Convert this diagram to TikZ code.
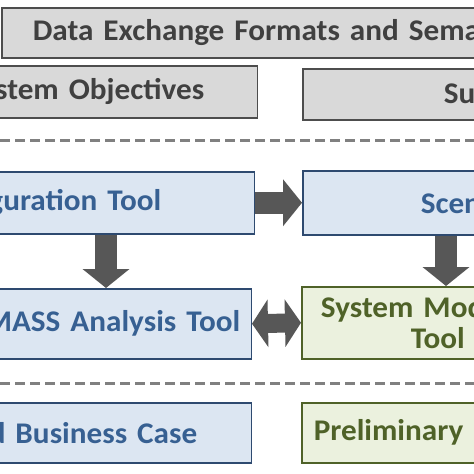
\documentclass[tikz,border=0pt]{standalone}
\usepackage{fontspec}
\setmainfont{Carlito}[FakeStretch=1.04]
\usetikzlibrary{arrows.meta}

\definecolor{grayfill}{HTML}{D9D9D9}
\definecolor{grayedge}{HTML}{4D4D4D}
\definecolor{graytext}{HTML}{404040}
\definecolor{bluefill}{HTML}{DCE6F2}
\definecolor{blueedge}{HTML}{2E4A70}
\definecolor{bluetext}{HTML}{376092}
\definecolor{greenfill}{HTML}{EBF1DE}
\definecolor{greenedge}{HTML}{4F6228}
\definecolor{greentext}{HTML}{4F6228}
\definecolor{arrowgray}{HTML}{575757}
\definecolor{sepgray}{HTML}{808080}

\begin{document}
\begin{tikzpicture}[x=1pt, y=-1pt,
    box/.style={draw, line width=1.5pt, inner ysep=0pt, font=\fontsize{30}{31}\selectfont\bfseries},
    graybox/.style={box, draw=grayedge, fill=grayfill, text=graytext},
    bluebox/.style={box, draw=blueedge, fill=bluefill, text=bluetext},
    greenbox/.style={box, draw=greenedge, fill=greenfill, text=greentext},
    leftbox/.style={anchor=north east, text width=300pt, align=right},
    rightbox/.style={anchor=north west, text width=300pt, align=left},
    fatarrow/.style={line width=22pt, draw=arrowgray, -{Triangle[length=19pt, width=46pt]}},
    dblarrow/.style={line width=19pt, draw=arrowgray, {Triangle[length=16pt, width=47pt]}-{Triangle[length=16pt, width=47pt]}},
    sep/.style={draw=sepgray, line width=3pt, dash pattern=on 10pt off 5pt}
]
    \useasboundingbox (0,0) rectangle (474,474);
    \clip (0,0) rectangle (474,474);
    \fill[white] (0,0) rectangle (474,474);

    % top banner
    \node[graybox, anchor=north west, text width=700pt, align=left, inner xsep=31pt, minimum height=50pt] (formats) at (1,7) {Data Exchange Formats and Semantics};

    % objectives row
    \node[graybox, leftbox, inner xsep=53pt, minimum height=52pt] (obj) at (258,65) {System Objectives};
    \node[graybox, rightbox, inner xsep=141pt, minimum height=51pt] (su) at (302,68) {Su};

    \draw[sep] (0,140) -- (474,140);

    % tools
    \node[bluebox, leftbox, inner xsep=93pt, minimum height=62pt] (cfg) at (255,171) {Configuration Tool};
    \node[bluebox, rightbox, inner xsep=118pt, minimum height=64pt] (scn) at (302,170) {Scenario};
    \node[bluebox, leftbox, inner xsep=11pt, minimum height=70pt] (mass) at (252,288) {MASS Analysis Tool};
    \node[greenbox, anchor=north west, text width=252pt, align=center, inner xsep=10pt, minimum height=72pt] (sysmod) at (301,286) {System Modelling\\Tool};

    \draw[sep] (0,383) -- (474,383);

    % results row
    \node[bluebox, leftbox, inner xsep=54pt, minimum height=60pt] (biz) at (252,402) {d Business Case};
    \node[greenbox, rightbox, inner xsep=12pt, minimum height=60pt] (prelim) at (301,402) {Preliminary};

    % arrows
    \coordinate (ldown) at (106,0);
    \coordinate (rdown) at (446,0);
    \draw[fatarrow] (cfg.east) -- (scn.west);
    \draw[fatarrow] (cfg.south -| ldown) -- (mass.north -| ldown);
    \draw[fatarrow] (scn.south -| rdown) -- (sysmod.north -| rdown);
    \draw[dblarrow] (mass.east) -- (sysmod.west);
\end{tikzpicture}
\end{document}
